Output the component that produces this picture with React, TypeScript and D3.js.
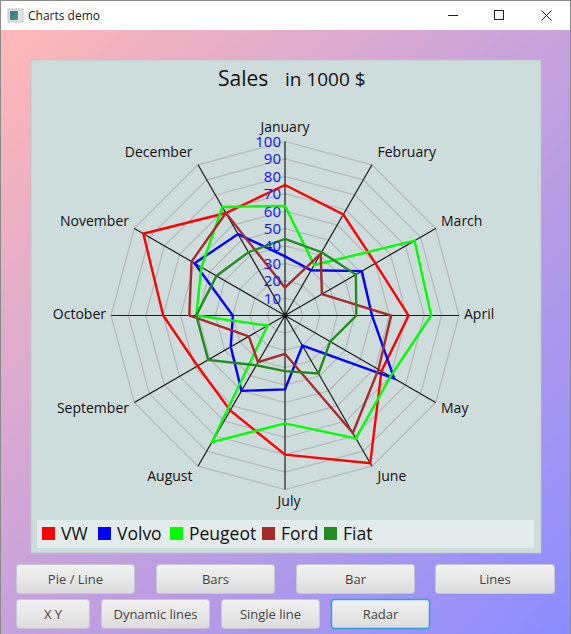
import * as d3 from 'd3';

const months = ['January', 'February', 'March', 'April', 'May', 'June', 'July', 'August', 'September', 'October', 'November', 'December'];
const ticks = [10, 20, 30, 40, 50, 60, 70, 80, 90, 100];

const seriesNames = ['VW', 'Volvo', 'Peugeot', 'Ford', 'Fiat'];
const seriesColors = ['#ff0000', '#0000ff', '#00ff00', '#a52a2a', '#228b22'];

const vw = [75, 67, 60, 71, 64, 98, 80, 63, 58, 70, 94, 68];
const volvo = [34, 30, 51, 50, 72.5, 20, 42.5, 50, 36, 30, 60, 54];
const peugeot = [63, 33.5, 86, 84, 70, 81.5, 62, 84, 11.5, 51, 55.5, 72];
const ford = [16, 41, 24.5, 61, 62, 78, 22, 31, 24, 55, 62, 68];
const fiat = [44, 42, 47, 41, 30, 38.5, 32, 33, 51, 51, 45.5, 42];
const seriesValues = [vw, volvo, peugeot, ford, fiat];

const buttonRows = [
  ['Pie / Line', 'Bars', 'Bar', 'Lines'],
  ['X Y', 'Dynamic lines', 'Single line', 'Radar'],
];

const uiFont = '"Open Sans", "Noto Sans", sans-serif';
const cx = 285;
const cy = 315.5;

const radius = d3.scaleLinear().domain([0, 100]).range([0, 174]);
const angle = d3.scaleLinear().domain([0, months.length]).range([0, Math.PI * 2]);

const radar = d3.lineRadial<number>()
  .angle((_, i) => angle(i))
  .radius(d => radius(d))
  .curve(d3.curveLinearClosed);

// legend and button layout
const legendX = d3.scaleOrdinal<string, number>().domain(seriesNames).range([42, 98, 170, 262, 324]);
const buttonSpans = [
  [[16, 135], [156, 275], [296, 415], [435, 555]],
  [[16, 90], [101, 210], [221, 320], [331, 430]],
];
const buttonTop = [564, 599];

function labelAnchor(i: number) {
  const s = Math.sin(angle(i));
  if (Math.abs(s) < 0.01) return 'middle';
  return s > 0 ? 'start' : 'end';
}

// labels sit a bit further out near the top and bottom of the radar
function labelX(i: number) {
  const s = Math.sin(angle(i));
  const c = Math.cos(angle(i));
  return (radius(100) + 5) * s + Math.sign(s) * 4 * c * c;
}

export default function App() {
  return (
    <svg width={571} height={634} style={{ position: 'absolute', left: 0, top: 0 }} fontFamily={uiFont}>
      <defs>
        <linearGradient id="bg" x1="0" y1="0" x2="1" y2="1">
          <stop offset="0" stopColor="#ffb8b8" />
          <stop offset="1" stopColor="#8c8cff" />
        </linearGradient>
        <linearGradient id="btn" x1="0" y1="0" x2="0" y2="1">
          <stop offset="0" stopColor="#f3f2f3" />
          <stop offset="1" stopColor="#dcdcdc" />
        </linearGradient>
        <linearGradient id="icon" x1="0" y1="0" x2="1" y2="1">
          <stop offset="0" stopColor="#3a6f8f" />
          <stop offset="1" stopColor="#4f9a78" />
        </linearGradient>
      </defs>

      {/* window */}
      <rect x={0} y={30} width={571} height={604} fill="url(#bg)" />
      <rect x={0} y={0} width={571} height={30} fill="#fff" />
      <rect x={0} y={0} width={571} height={1} fill="#8a8a8a" />
      <rect x={0} y={0} width={1} height={634} fill="#8a8a8a" />
      <rect x={570} y={0} width={1} height={634} fill="#8a8a8a" />
      <rect x={8} y={9} width={15} height={13} fill="#dfe5e5" stroke="#b5baba" strokeWidth={0.8} />
      <rect x={10} y={11} width={8} height={9} fill="url(#icon)" />
      <text x={28} y={20} fontSize={12} fill="#1a1a1a">Charts demo</text>
      <line x1={448} x2={458} y1={15.5} y2={15.5} stroke="#222" />
      <rect x={494.5} y={10.5} width={9} height={9} fill="none" stroke="#222" />
      <path d="M541.5 10.5 L551.5 20.5 M551.5 10.5 L541.5 20.5" stroke="#222" fill="none" />

      {/* chart panel */}
      <rect x={31} y={60} width={510} height={493} fill="#cfdcdc" stroke="#b7c6c8" strokeWidth={0.8} />
      <text x={218} y={86} fontSize={21} fill="#111">Sales</text>
      <text x={285} y={86} fontSize={19} fill="#111">in 1000 $</text>

      <g transform={`translate(${cx},${cy})`}>
        {ticks.map(t => (
          <path key={t} d={radar(months.map(() => t)) ?? ''} fill="none" stroke="#b3b8b8" strokeWidth={1.2} />
        ))}
        {months.map((m, i) => (
          <line
            key={m}
            x1={0}
            y1={0}
            x2={radius(100) * Math.sin(angle(i))}
            y2={-radius(100) * Math.cos(angle(i))}
            stroke="#1a1a1a"
            strokeWidth={1.2}
          />
        ))}
        {seriesValues.map((values, i) => (
          <path key={seriesNames[i]} d={radar(values) ?? ''} fill="none" stroke={seriesColors[i]} strokeWidth={2.4} />
        ))}
        <circle r={2.2} fill="#000" />
        {ticks.map(t => (
          <text key={t} x={-4} y={-radius(t)} dy="0.36em" textAnchor="end" fontSize={15} fill="#1010ff">{t}</text>
        ))}
        {months.map((m, i) => (
          <text
            key={m}
            x={labelX(i)}
            y={-(radius(100) + 13) * Math.cos(angle(i)) - 1.5}
            dy="0.36em"
            textAnchor={labelAnchor(i)}
            fontSize={14}
            fill="#111"
          >
            {m}
          </text>
        ))}
      </g>

      {/* legend */}
      <rect x={37} y={520} width={497} height={28} fill="#e3ecea" />
      {seriesNames.map((name, i) => (
        <g key={name} transform={`translate(${legendX(name)},527)`}>
          <rect width={13} height={13} fill={seriesColors[i]} />
          <text x={19} y={12.5} fontSize={17.5} fill="#111">{name}</text>
        </g>
      ))}

      {/* buttons */}
      {buttonRows.map((row, r) =>
        row.map((label, i) => {
          const [x0, x1] = buttonSpans[r][i];
          const focused = label === 'Radar';
          return (
            <g key={label}>
              <rect
                x={x0 + 0.5}
                y={buttonTop[r] + 0.5}
                width={x1 - x0 - 1}
                height={29}
                rx={3}
                fill="url(#btn)"
                stroke={focused ? '#2aa5e0' : '#c6c6d2'}
                strokeWidth={focused ? 1.5 : 1}
              />
              <text x={(x0 + x1) / 2} y={buttonTop[r] + 19.5} textAnchor="middle" fontSize={13} fill="#444">{label}</text>
            </g>
          );
        })
      )}
    </svg>
  );
}
